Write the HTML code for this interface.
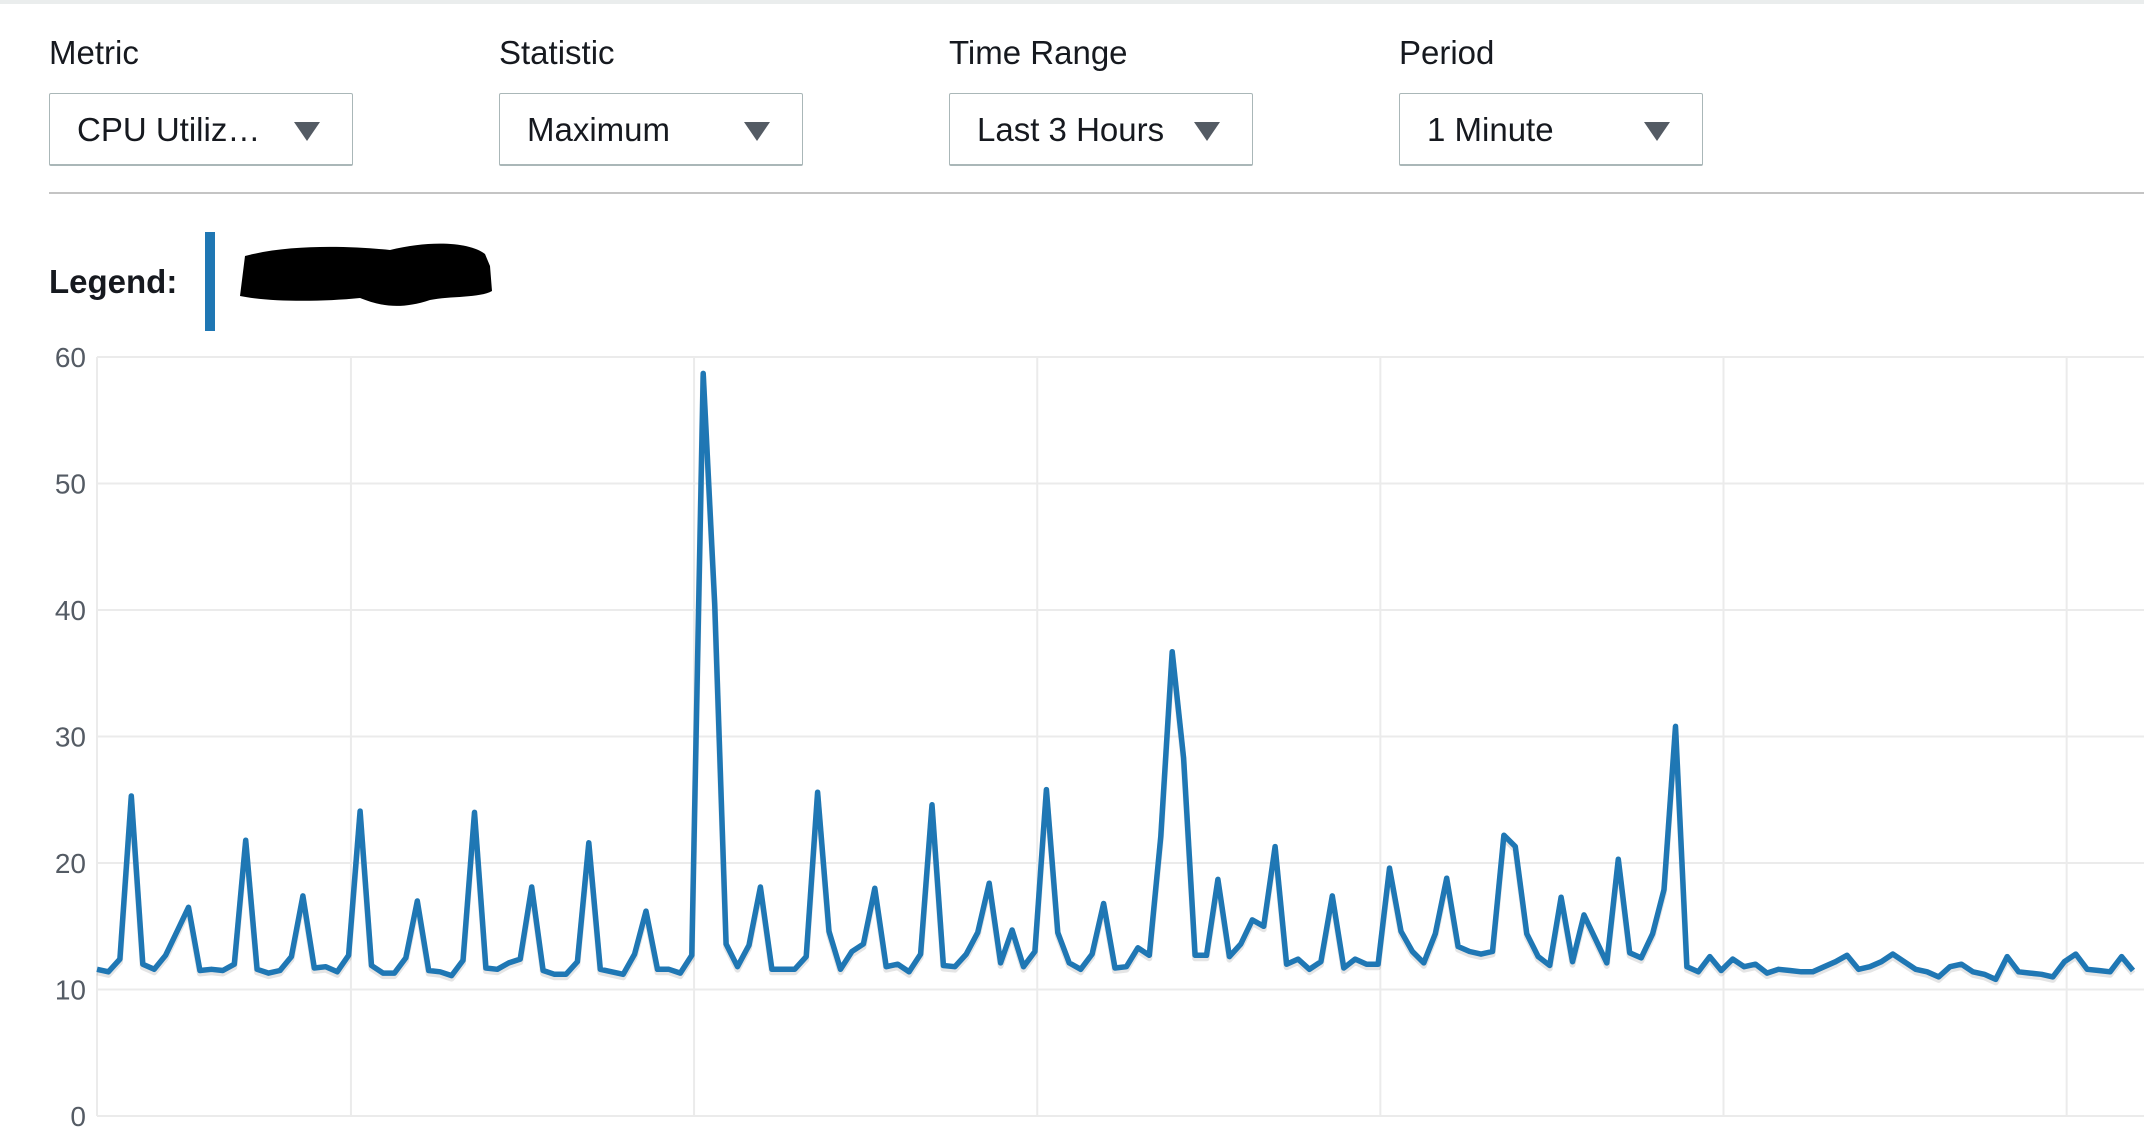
<!DOCTYPE html>
<html><head><meta charset="utf-8"><style>
html,body{margin:0;padding:0;background:#fff;}
body{width:2144px;height:1127px;position:relative;overflow:hidden;font-family:"Liberation Sans","DejaVu Sans",sans-serif;color:#16191f;}
.lbl{position:absolute;top:34px;font-size:33px;}
.dd{position:absolute;top:93px;height:73px;width:304px;border:1px solid #aab7b8;border-bottom:2px solid #aab7b8;border-radius:2px;box-sizing:border-box;}
.dd span{position:absolute;left:27px;top:17px;font-size:33px;}
.dd i{position:absolute;right:32px;top:28px;width:0;height:0;border-left:13px solid transparent;border-right:13px solid transparent;border-top:19px solid #545b64;}
</style></head><body>
<div style="position:absolute;left:0;top:0;width:2144px;height:4px;background:#eaeded;"></div>
<div class="lbl" style="left:49px">Metric</div>
<div class="lbl" style="left:499px">Statistic</div>
<div class="lbl" style="left:949px">Time Range</div>
<div class="lbl" style="left:1399px">Period</div>
<div class="dd" style="left:49px"><span>CPU Utiliz…</span><i></i></div>
<div class="dd" style="left:499px"><span>Maximum</span><i></i></div>
<div class="dd" style="left:949px"><span>Last 3 Hours</span><i></i></div>
<div class="dd" style="left:1399px"><span>1 Minute</span><i></i></div>
<div style="position:absolute;left:49px;top:192px;width:2095px;height:2px;background:#c4c4c4;"></div>
<div style="position:absolute;left:49px;top:263px;font-size:33px;font-weight:bold;">Legend:</div>
<div style="position:absolute;left:205px;top:232px;width:10px;height:99px;background:#1f77b4;"></div>
<svg style="position:absolute;left:230px;top:236px" width="280" height="80">
<path d="M15 20 C60 8,120 10,160 14 C200 4,240 6,255 18 L260 30 L262 55 C250 62,220 60,200 64 C170 74,150 70,130 62 C90 66,40 66,10 60 Z" fill="#000"/>
</svg>
<svg id="chart" style="position:absolute;left:0;top:0" width="2144" height="1127"></svg>
<script>
const yTicks=[0,10,20,30,40,50,60];
const xGridIdx=[22.2,52.2,82.2,112.2,142.2,172.2];
const cpuValues=[11.6,11.4,12.4,25.3,12,11.6,12.7,14.6,16.5,11.5,11.6,11.5,12,21.8,11.6,11.3,11.5,12.6,17.4,11.7,11.8,11.4,12.7,24.1,11.9,11.3,11.3,12.5,17,11.5,11.4,11.1,12.3,24,11.7,11.6,12.1,12.4,18.1,11.5,11.2,11.2,12.2,21.6,11.6,11.4,11.2,12.8,16.2,11.6,11.6,11.3,12.7,58.7,40.5,13.6,11.8,13.5,18.1,11.6,11.6,11.6,12.6,25.6,14.6,11.6,13.0,13.6,18.0,11.8,12.0,11.4,12.8,24.6,11.9,11.8,12.8,14.5,18.4,12.1,14.7,11.8,13.0,25.8,14.5,12.1,11.6,12.8,16.8,11.7,11.8,13.3,12.7,22.1,36.7,28.3,12.7,12.7,18.7,12.6,13.6,15.5,15.0,21.3,12.0,12.4,11.6,12.2,17.4,11.7,12.4,12.0,12.0,19.6,14.6,13.0,12.1,14.4,18.8,13.4,13.0,12.8,13.0,22.2,21.3,14.4,12.6,11.9,17.3,12.2,15.9,14.0,12.1,20.3,12.9,12.5,14.4,17.9,30.8,11.8,11.4,12.6,11.5,12.4,11.8,12.0,11.3,11.6,11.5,11.4,11.4,11.8,12.2,12.7,11.6,11.8,12.2,12.8,12.2,11.6,11.4,11.0,11.8,12.0,11.4,11.2,10.8,12.6,11.4,11.3,11.2,11.0,12.2,12.8,11.6,11.5,11.4,12.6,11.5];
const NS='http://www.w3.org/2000/svg';
const svg=document.getElementById('chart');
const X0=97,X1=2133,Y0=1116,Y60=357;
const xs=i=>X0+(X1-X0)*i/(cpuValues.length-1);
const ys=v=>Y0-(Y0-Y60)*v/60;
function mk(tag,attrs){const e=document.createElementNS(NS,tag);for(const k in attrs)e.setAttribute(k,attrs[k]);svg.appendChild(e);return e;}
yTicks.forEach(t=>{
  const g=mk('line',{x1:X0,x2:2144,y1:ys(t),y2:ys(t),stroke:'#ebebeb','stroke-width':2});
  
  
  const tx=mk('text',{x:86,y:ys(t)+10,'text-anchor':'end','font-size':28,fill:'#545b64','font-family':'Liberation Sans, sans-serif'});
  tx.textContent=t;
  
  
});
const vl=mk('line',{x1:X0,x2:X0,y1:Y60,y2:Y0,stroke:'#ebebeb','stroke-width':2});


xGridIdx.forEach(i=>{
  const g=mk('line',{x1:xs(i),x2:xs(i),y1:Y60,y2:Y0,stroke:'#ebebeb','stroke-width':2});
  
  
});
const d=cpuValues.map((v,i)=>(i?'L':'M')+xs(i).toFixed(1)+' '+ys(v).toFixed(1)).join(' ');
const sh=mk('path',{d:d,fill:'none',stroke:'rgba(0,0,0,0.1)','stroke-width':6,'stroke-linejoin':'round',transform:'translate(0,3)'});


const ln=mk('path',{d:d,fill:'none',stroke:'#1f77b4','stroke-width':5.5,'stroke-linejoin':'round'});


</script>
</body></html>
